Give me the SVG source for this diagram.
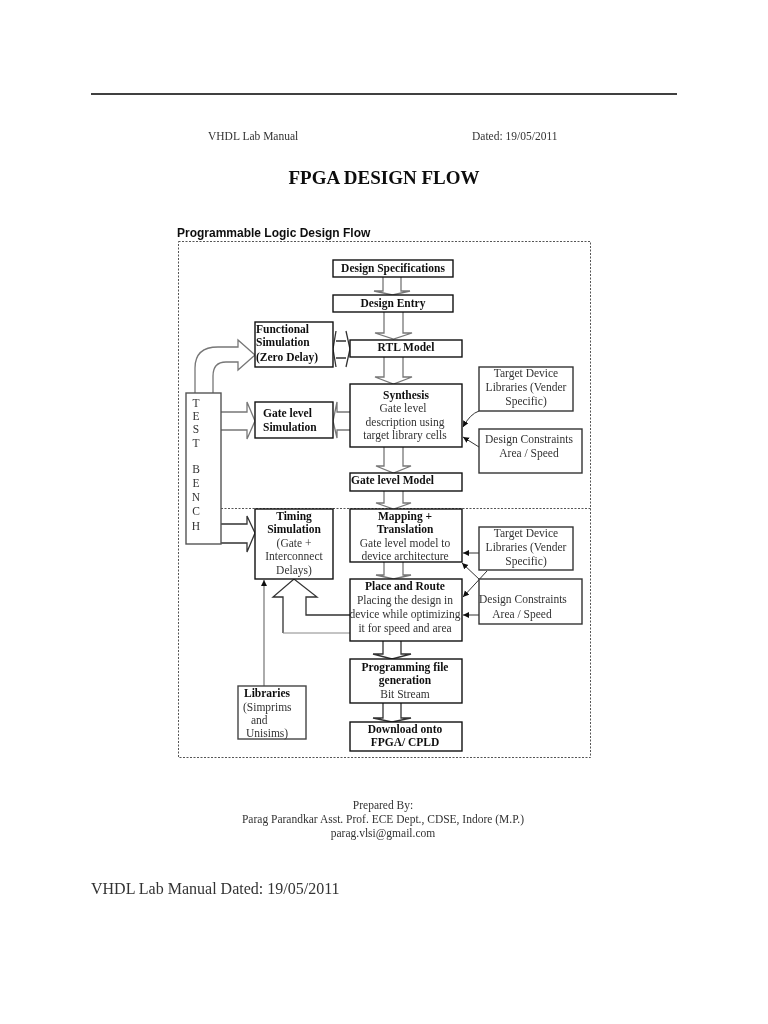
<svg xmlns="http://www.w3.org/2000/svg" width="768" height="1024" viewBox="0 0 768 1024">
<style>
text{font-family:"Liberation Serif","Times New Roman",serif;fill:#333;font-size:11.5px}
.c{text-anchor:middle}
.b{font-weight:bold;fill:#111}
.box{fill:#fff;stroke:#111;stroke-width:1.4}
.ar{fill:#fff;stroke:#777;stroke-width:1.3;stroke-linejoin:miter}
.dk{stroke:#333}
.ln{fill:none;stroke:#444;stroke-width:1}
.lnk{fill:none;stroke:#333;stroke-width:1;marker-end:url(#ah)}
.dash{fill:none;stroke:#555;stroke-width:1;stroke-dasharray:2 1.5}
</style>
<defs>
<marker id="ah" markerUnits="userSpaceOnUse" markerWidth="7" markerHeight="7" refX="6" refY="3" orient="auto"><path d="M0 0L6 3L0 6z" fill="#111"/></marker>
<filter id="soft" x="0" y="0" width="100%" height="100%"><feGaussianBlur stdDeviation="0.35"/></filter>
</defs>
<rect width="768" height="1024" fill="#fff"/>
<path d="M91 94H677" stroke="#000" stroke-width="1.3"/>
<g filter="url(#soft)">
<text x="208" y="140">VHDL Lab Manual</text>
<text x="472" y="140">Dated: 19/05/2011</text>
<text x="384" y="184" class="c b" style="font-size:19px">FPGA DESIGN FLOW</text>
<text x="177" y="237" class="b" style="font-family:'Liberation Sans',Arial,sans-serif;font-size:12px">Programmable Logic Design Flow</text>
<rect x="178.500" y="241.500" width="412" height="516" class="dash"/>
<path d="M221 508.500H591" class="dash"/>
<g id="connectors">
<path class="ar" d="M383 277V291H374L392.500 295L410 291H401V277"/>
<path class="ar" d="M384 312V333H375L393.500 339L412 333H403V312"/>
<path class="ar" d="M384 357V377H375L393.500 384L412 377H403V357"/>
<path class="ar" d="M384 447V466H376L393.500 473L411 466H403V447"/>
<path class="ar" d="M384 491V503H376L393.500 509L411 503H403V491"/>
<path class="ar" d="M384 562V575H376L393.500 579L411 575H403V562"/>
<path class="ar dk" d="M383 641V654H373L392 659L411 654H401V641"/>
<path class="ar dk" d="M383 703V718H373L392 722L411 718H401V703"/>
<path class="ar" d="M195 393V368Q195 347 218 347H238V340L255 355L238 370V362H226Q213 362 213 376V393"/>
<path class="ar" d="M221 412H247V402L255 421L247 439V430H221"/>
<path class="ar dk" d="M221 524H247V516L255 533L247 552V543H221"/>
<path class="ar dk" d="M336 331L333 349L336 367M336 341H346M336 358H346M346 331L350 349L346 367"/>
<path class="ar" d="M350 412H337V402L333 421L337 438V430H350"/>
<path class="ar dk" d="M283 633V597H273L294 579L317 597H306V615H350" style="fill:none"/>
<path d="M283 633H350" class="ln" style="stroke:#888"/>
<path d="M264 686V580" class="lnk" style="stroke:#888;stroke-width:1.4"/>
<path class="lnk" d="M479 411Q470 414 463 427"/>
<path class="lnk" d="M479 447L463 437"/>
<path class="lnk" d="M479 553H463"/>
<path class="lnk" d="M480 580L462 563"/>
<path class="lnk" d="M487 571L463 597"/>
<path class="lnk" d="M479 615H463"/>
</g>
<g id="spec"><rect x="333" y="260" width="120" height="17" class="box"/><text x="393" y="272" class="c b">Design Specifications</text></g>
<g id="entry"><rect x="333" y="295" width="120" height="17" class="box"/><text x="393" y="307" class="c b">Design Entry</text></g>
<g id="func"><rect x="255" y="322" width="78" height="45" class="box"/><text x="256" y="333" class="b">Functional</text><text x="256" y="346" class="b">Simulation</text><text x="256" y="361" class="b">(Zero Delay)</text></g>
<g id="rtl"><rect x="350" y="340" width="112" height="17" class="box"/><text x="406" y="351" class="c b">RTL Model</text></g>
<g id="syn"><rect x="350" y="384" width="112" height="63" class="box"/><text x="406" y="399" class="c b">Synthesis</text><text x="403" y="412" class="c">Gate level</text><text x="405" y="426" class="c">description using</text><text x="405" y="439" class="c">target library cells</text></g>
<g id="gsim"><rect x="255" y="402" width="78" height="36" class="box"/><text x="263" y="417" class="b">Gate level</text><text x="263" y="431" class="b">Simulation</text></g>
<g id="glm"><rect x="350" y="473" width="112" height="18" class="box"/><text x="351" y="484" class="b">Gate level Model</text></g>
<g id="tb"><rect x="186" y="393" width="35" height="151" class="box" style="stroke:#555"/>
<text x="196" y="407" class="c">T</text><text x="196" y="420" class="c">E</text><text x="196" y="433" class="c">S</text><text x="196" y="447" class="c">T</text><text x="196" y="473" class="c">B</text><text x="196" y="487" class="c">E</text><text x="196" y="501" class="c">N</text><text x="196" y="515" class="c">C</text><text x="196" y="530" class="c">H</text></g>
<g id="timing"><rect x="255" y="509" width="78" height="70" class="box"/><text x="294" y="520" class="c b">Timing</text><text x="294" y="533" class="c b">Simulation</text><text x="294" y="547" class="c">(Gate +</text><text x="294" y="560" class="c">Interconnect</text><text x="294" y="574" class="c">Delays)</text></g>
<g id="map"><rect x="350" y="509" width="112" height="53" class="box"/><text x="405" y="520" class="c b">Mapping +</text><text x="405" y="533" class="c b">Translation</text><text x="405" y="547" class="c">Gate level model to</text><text x="405" y="560" class="c">device architecture</text></g>
<g id="par"><rect x="350" y="579" width="112" height="62" class="box"/><text x="405" y="590" class="c b">Place and Route</text><text x="405" y="604" class="c">Placing the design in</text><text x="405" y="618" class="c">device while optimizing</text><text x="405" y="632" class="c">it for speed and area</text></g>
<g id="prog"><rect x="350" y="659" width="112" height="44" class="box"/><text x="405" y="671" class="c b">Programming file</text><text x="405" y="684" class="c b">generation</text><text x="405" y="698" class="c">Bit Stream</text></g>
<g id="dl"><rect x="350" y="722" width="112" height="29" class="box"/><text x="405" y="733" class="c b">Download onto</text><text x="405" y="746" class="c b">FPGA/ CPLD</text></g>
<g id="lib"><rect x="238" y="686" width="68" height="53" class="box" style="stroke:#444"/><text x="244" y="697" class="b">Libraries</text><text x="243" y="711">(Simprims</text><text x="251" y="724">and</text><text x="246" y="737">Unisims)</text></g>
<g id="t1"><rect x="479" y="367" width="94" height="44" class="box" style="stroke:#333"/><text x="526" y="377" class="c">Target Device</text><text x="526" y="391" class="c">Libraries (Vender</text><text x="526" y="405" class="c">Specific)</text></g>
<g id="d1"><rect x="479" y="429" width="103" height="44" class="box" style="stroke:#333"/><text x="529" y="443" class="c">Design Constraints</text><text x="529" y="457" class="c">Area / Speed</text></g>
<g id="t2"><rect x="479" y="527" width="94" height="43" class="box" style="stroke:#333"/><text x="526" y="537" class="c">Target Device</text><text x="526" y="551" class="c">Libraries (Vender</text><text x="526" y="565" class="c">Specific)</text></g>
<g id="d2"><rect x="479" y="579" width="103" height="45" class="box" style="stroke:#333"/><text x="479" y="603">Design Constraints</text><text x="522" y="618" class="c">Area / Speed</text></g>
<text x="383" y="809" class="c">Prepared By:</text>
<text x="383" y="823" class="c">Parag Parandkar Asst. Prof. ECE Dept., CDSE, Indore (M.P.)</text>
<text x="383" y="837" class="c">parag.vlsi@gmail.com</text>
<text x="91" y="894" style="font-size:16px">VHDL Lab Manual Dated: 19/05/2011</text>
</g>
</svg>
